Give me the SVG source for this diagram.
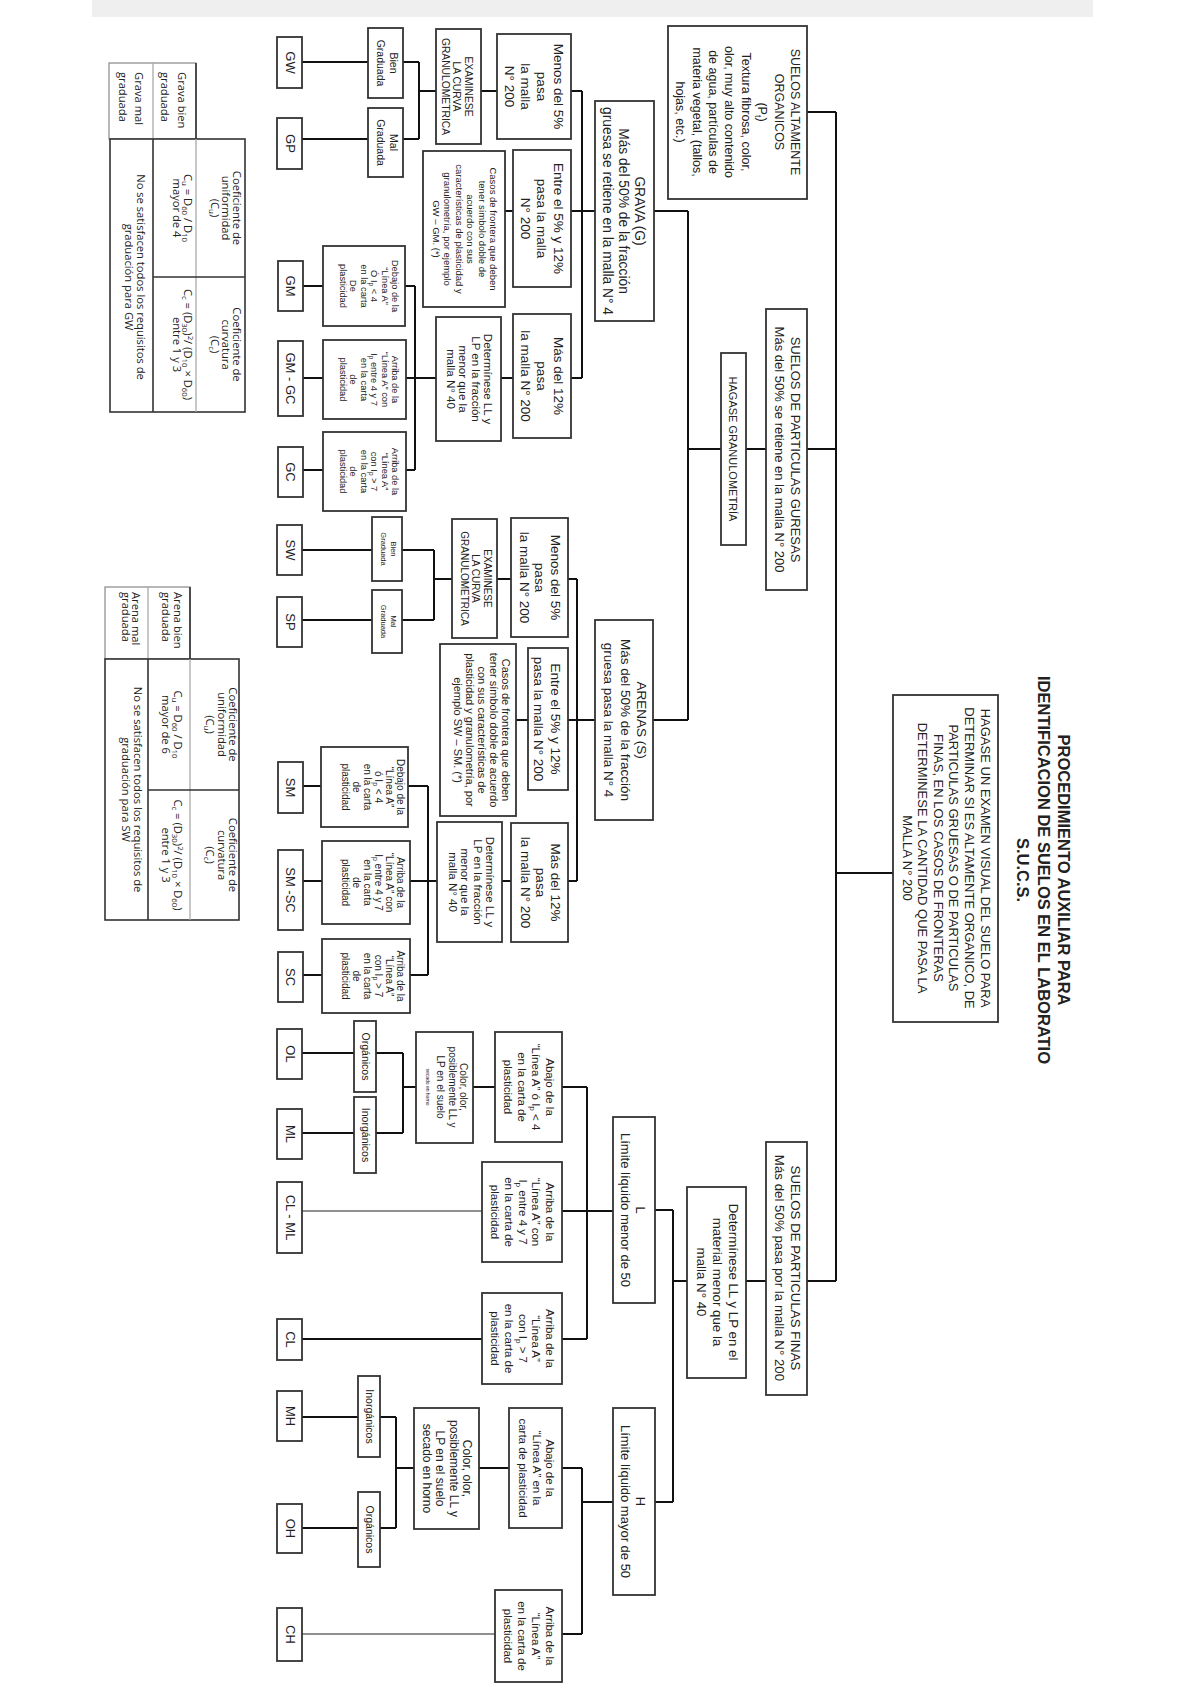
<svg xmlns="http://www.w3.org/2000/svg" width="1200" height="1697" viewBox="0 0 1200 1697">
<style>
.bx{fill:#fff;stroke:#333;stroke-width:1.8}
.c{fill:none;stroke:#111;stroke-width:2}
.cth{fill:none;stroke:#222;stroke-width:1.2}
text{font-family:"Liberation Sans",Arial,sans-serif;fill:#222;text-anchor:middle}
.tt{font-family:"Open Sans",sans-serif;font-size:11.2px}
.ts{text-anchor:start}
.sb{font-size:70%}
.tl{stroke:#333;stroke-width:1.6;fill:#fff}
.tln{stroke:#333;stroke-width:1.6;fill:none}
.tg{stroke:#aaa;stroke-width:1.3;fill:none}
.lb{fill:#fff;stroke:#888;stroke-width:1.2}
</style>
<rect x="92" y="0" width="1001" height="17" fill="#efefef"/>

<g id="connectors">
<path class="c" d="M836,112 V1281 M807,112 H836 M807,449 H836 M766,449 H746 M721,449 H688 M688,211 V720 M654,211 H688 M653,720 H688 M836,873 H893 M807,1281 H836"/>
<path class="c" d="M571,211 H595 M582,91 V378 M571,91 H582 M571,378 H582 M497,91 H481 M436,91 H419 M419,62 V139 M403,62 H419 M403,139 H419 M302,62 H368 M302,139 H368 M513,211 H505 M513,378 H501 M406,378 H436 M415,286 V470 M405,286 H415 M406,470 H415 M303,286 H323 M303,378 H323 M303,470 H323"/>
<path class="c" d="M568,720 H595 M577,579 V881 M568,579 H577 M568,881 H577 M511,579 H497 M452,579 H434 M434,550 V620 M402,550 H434 M402,620 H434 M302,550 H372 M302,620 H372 M528,720 H516 M511,881 H502 M410,881 H437 M428,786 V975 M408,786 H428 M410,975 H428 M303,786 H321 M303,881 H322 M303,975 H322"/>
<path class="c" d="M766,1281 H746 M687,1281 H673 M673,1210 V1502 M655,1210 H673 M655,1502 H673 M613,1211 H562 M587,1087 V1339 M562,1087 H587 M562,1339 H587 M495,1087 H473 M416,1087 H403 M403,1053 V1133 M376,1053 H403 M376,1133 H403 M302,1053 H354 M302,1133 H354 M302,1339 H482 M613,1502 H582 M582,1468 V1634 M562,1468 H582 M562,1634 H582 M509,1468 H479 M414,1468 H396 M396,1417 V1528 M380,1417 H396 M380,1528 H396 M302,1417 H358 M302,1528 H358"/>
<path class="cth" d="M302,1211 H482 M302,1634 H495"/>
</g>

<g id="title">
<text font-size="16.5" font-weight="bold" transform="translate(1058,870) rotate(90)"><tspan x="0" y="0">PROCEDIMIENTO AUXILIAR PARA</tspan><tspan x="0" y="20.5">IDENTIFICACION DE SUELOS EN EL LABORATIO</tspan><tspan x="0" y="41">S.U.C.S.</tspan></text>
</g>

<g id="n-examen">
<rect class="bx" x="893" y="695" width="105" height="327"/>
<text font-size="13" transform="translate(980.5,858) rotate(90)"><tspan x="0" y="0">HAGASE UN EXAMEN VISUAL DEL SUELO PARA</tspan><tspan x="0" y="15.6">DETERMINAR SI ES ALTAMENTE ORGANICO, DE</tspan><tspan x="0" y="31.2">PARTICULAS GRUESAS O DE PARTICULAS</tspan><tspan x="0" y="46.8">FINAS, EN LOS CASOS DE FRONTERAS</tspan><tspan x="0" y="62.4">DETERMINESE LA CANTIDAD QUE PASA LA</tspan><tspan x="0" y="78">MALLA N° 200</tspan></text>
</g>

<g id="n-organicos">
<rect class="bx" x="668" y="26" width="139" height="173"/>
<text font-size="12.5" transform="translate(791,112) rotate(90)"><tspan x="0" y="0">SUELOS ALTAMENTE</tspan><tspan x="0" y="16.4">ORGANICOS</tspan><tspan x="0" y="32.8">(P<tspan class="sb" dy="3">t</tspan><tspan dy="-3">)</tspan></tspan><tspan x="0" y="49.2">Textura fibrosa, color,</tspan><tspan x="0" y="65.6">olor, muy alto contenido</tspan><tspan x="0" y="82">de agua, partículas de</tspan><tspan x="0" y="98.4">materia vegetal, (tallos,</tspan><tspan x="0" y="114.8">hojas, etc.)</tspan></text>
</g>

<g id="n-gruesas">
<rect class="bx" x="766" y="309" width="41" height="281"/>
<text font-size="13" transform="translate(790.5,449.5) rotate(90)"><tspan x="0" y="0">SUELOS DE PARTICULAS GURESAS</tspan><tspan x="0" y="15.5">Más del 50% se retiene en la malla N° 200</tspan></text>
</g>

<g id="n-hagase-gran">
<rect class="bx" x="721" y="353" width="25" height="192"/>
<text font-size="11" transform="translate(729,449) rotate(90)"><tspan x="0" y="0">HAGASE GRANULOMETRÍA</tspan></text>
</g>

<g id="n-finas">
<rect class="bx" x="766" y="1142" width="41" height="253"/>
<text font-size="13.3" transform="translate(790.5,1268) rotate(90)"><tspan x="0" y="0">SUELOS DE PARTICULAS FINAS</tspan><tspan x="0" y="15.5">Más del 50% pasa por la malla N° 200</tspan></text>
</g>

<g id="n-grava">
<rect class="bx" x="595" y="101" width="59" height="220"/>
<text font-size="13.8" transform="translate(635,211) rotate(90)"><tspan x="0" y="0">GRAVA (G)</tspan><tspan x="0" y="16">Más del 50% de la fracción</tspan><tspan x="0" y="32">gruesa se retiene en la malla N° 4</tspan></text>
</g>

<g id="n-arenas">
<rect class="bx" x="595" y="620" width="58" height="200"/>
<text font-size="13.5" transform="translate(637,720) rotate(90)"><tspan x="0" y="0">ARENAS (S)</tspan><tspan x="0" y="16.5">Más del 50% de la fracción</tspan><tspan x="0" y="33">gruesa pasa la malla N° 4</tspan></text>
</g>

<!-- Gravel branch -->
<g id="n-g-menos">
<rect class="bx" x="497" y="34" width="74" height="105"/>
<text font-size="13.5" transform="translate(553.5,86.5) rotate(90)"><tspan x="0" y="0">Menos del 5%</tspan><tspan x="0" y="16.2">pasa</tspan><tspan x="0" y="32.4">la malla</tspan><tspan x="0" y="48.6">N° 200</tspan></text>
</g>
<g id="n-g-entre">
<rect class="bx" x="513" y="150" width="58" height="137"/>
<text font-size="13.5" transform="translate(553.5,218.5) rotate(90)"><tspan x="0" y="0">Entre el 5% y 12%</tspan><tspan x="0" y="16.5">pasa la malla</tspan><tspan x="0" y="33">N° 200</tspan></text>
</g>
<g id="n-g-mas">
<rect class="bx" x="513" y="314" width="58" height="124"/>
<text font-size="13.5" transform="translate(553.5,376) rotate(90)"><tspan x="0" y="0">Más del 12%</tspan><tspan x="0" y="16.5">pasa</tspan><tspan x="0" y="33">la malla N° 200</tspan></text>
</g>
<g id="n-g-examinese">
<rect class="bx" x="436" y="29" width="45" height="115"/>
<text font-size="10.3" transform="translate(464.5,86.5) rotate(90)"><tspan x="0" y="0">EXAMINESE</tspan><tspan x="0" y="11.5">LA CURVA</tspan><tspan x="0" y="23">GRANULOMETRICA</tspan></text>
</g>
<g id="n-g-bien">
<rect class="bx" x="368" y="28" width="35" height="70"/>
<text font-size="10.5" transform="translate(389.5,63) rotate(90)"><tspan x="0" y="0">Bien</tspan><tspan x="0" y="13">Graduada</tspan></text>
</g>
<g id="n-g-mal">
<rect class="bx" x="368" y="108" width="35" height="69"/>
<text font-size="10.5" transform="translate(389.5,142.5) rotate(90)"><tspan x="0" y="0">Mal</tspan><tspan x="0" y="13">Graduada</tspan></text>
</g>
<g id="n-g-casos">
<rect class="bx" x="423" y="151" width="82" height="156"/>
<text font-size="9.5" transform="translate(490,229) rotate(90)"><tspan x="0" y="0">Casos de frontera que deben</tspan><tspan x="0" y="11.4">tener símbolo doble de</tspan><tspan x="0" y="22.8">acuerdo con sus</tspan><tspan x="0" y="34.2">características de plasticidad y</tspan><tspan x="0" y="45.6">granulometría, por ejemplo</tspan><tspan x="0" y="57">GW – GM. (*)</tspan></text>
</g>
<g id="n-g-determinese">
<rect class="bx" x="436" y="317" width="65" height="124"/>
<text font-size="11.5" transform="translate(484,379) rotate(90)"><tspan x="0" y="0">Determínese LL y</tspan><tspan x="0" y="12.3">LP en la fracción</tspan><tspan x="0" y="24.6">menor que la</tspan><tspan x="0" y="36.9">malla N° 40</tspan></text>
</g>
<g id="n-g-debajo">
<rect class="bx" x="323" y="246" width="82" height="80"/>
<text font-size="9.3" transform="translate(392,286) rotate(90)"><tspan x="0" y="0">Debajo de la</tspan><tspan x="0" y="10.4">“Línea A”</tspan><tspan x="0" y="20.8">Ó I<tspan class="sb" dy="2">p</tspan><tspan dy="-2"> &lt; 4</tspan></tspan><tspan x="0" y="31.2">en la carta</tspan><tspan x="0" y="41.6">De</tspan><tspan x="0" y="52">plasticidad</tspan></text>
</g>
<g id="n-g-arriba47">
<rect class="bx" x="323" y="340" width="83" height="79"/>
<text font-size="9.3" transform="translate(392,379.5) rotate(90)"><tspan x="0" y="0">Arriba de la</tspan><tspan x="0" y="10.4">“Línea A” con</tspan><tspan x="0" y="20.8">I<tspan class="sb" dy="2">p</tspan><tspan dy="-2"> entre 4 y 7</tspan></tspan><tspan x="0" y="31.2">en la carta</tspan><tspan x="0" y="41.6">de</tspan><tspan x="0" y="52">plasticidad</tspan></text>
</g>
<g id="n-g-arriba7">
<rect class="bx" x="323" y="432" width="83" height="79"/>
<text font-size="9.3" transform="translate(392,471.5) rotate(90)"><tspan x="0" y="0">Arriba de la</tspan><tspan x="0" y="10.4">“Línea A”</tspan><tspan x="0" y="20.8">con I<tspan class="sb" dy="2">p</tspan><tspan dy="-2"> &gt; 7</tspan></tspan><tspan x="0" y="31.2">en la carta</tspan><tspan x="0" y="41.6">de</tspan><tspan x="0" y="52">plasticidad</tspan></text>
</g>
<g id="n-gw"><rect class="bx" x="277" y="37" width="25" height="51"/><text font-size="13" transform="translate(285.5,62.5) rotate(90)">GW</text></g>
<g id="n-gp"><rect class="bx" x="277" y="118" width="25" height="51"/><text font-size="13" transform="translate(285.5,143.5) rotate(90)">GP</text></g>
<g id="n-gm"><rect class="bx" x="278" y="261" width="25" height="50"/><text font-size="13" transform="translate(286,286) rotate(90)">GM</text></g>
<g id="n-gmgc"><rect class="bx" x="278" y="341" width="25" height="75"/><text font-size="13" transform="translate(286,378.5) rotate(90)">GM - GC</text></g>
<g id="n-gc"><rect class="bx" x="278" y="447" width="25" height="50"/><text font-size="13" transform="translate(286,472) rotate(90)">GC</text></g>

<!-- Sand branch -->
<g id="n-s-menos">
<rect class="bx" x="511" y="518" width="57" height="119"/>
<text font-size="13.5" transform="translate(550.5,577.5) rotate(90)"><tspan x="0" y="0">Menos del 5%</tspan><tspan x="0" y="15.5">pasa</tspan><tspan x="0" y="31">la malla N° 200</tspan></text>
</g>
<g id="n-s-examinese">
<rect class="bx" x="452" y="519" width="45" height="119"/>
<text font-size="10" transform="translate(483.5,578.5) rotate(90)"><tspan x="0" y="0">EXAMINESE</tspan><tspan x="0" y="11.5">LA CURVA</tspan><tspan x="0" y="23">GRANULOMETRICA</tspan></text>
</g>
<g id="n-s-bien">
<rect class="bx" x="372" y="517" width="30" height="64"/>
<text font-size="7.5" transform="translate(390.5,549) rotate(90)"><tspan x="0" y="0">Bien</tspan><tspan x="0" y="10">Graduada</tspan></text>
</g>
<g id="n-s-mal">
<rect class="bx" x="372" y="590" width="30" height="63"/>
<text font-size="7.5" transform="translate(390.5,621.5) rotate(90)"><tspan x="0" y="0">Mal</tspan><tspan x="0" y="10">Graduada</tspan></text>
</g>
<g id="n-s-entre">
<rect class="bx" x="528" y="648" width="40" height="142"/>
<text font-size="13.5" transform="translate(550.5,719) rotate(90)"><tspan x="0" y="0">Entre el 5% y 12%</tspan><tspan x="0" y="16.7">pasa la malla N° 200</tspan></text>
</g>
<g id="n-s-casos">
<rect class="bx" x="440" y="644" width="76" height="172"/>
<text font-size="11" transform="translate(501.5,730) rotate(90)"><tspan x="0" y="0">Casos de frontera que deben</tspan><tspan x="0" y="11.8">tener símbolo doble de acuerdo</tspan><tspan x="0" y="23.6">con sus características de</tspan><tspan x="0" y="35.4">plasticidad y granulometría, por</tspan><tspan x="0" y="47.2">ejemplo SW – SM. (*)</tspan></text>
</g>
<g id="n-s-mas">
<rect class="bx" x="511" y="823" width="57" height="119"/>
<text font-size="13.5" transform="translate(550.5,882.5) rotate(90)"><tspan x="0" y="0">Más del 12%</tspan><tspan x="0" y="15">pasa</tspan><tspan x="0" y="30">la malla N° 200</tspan></text>
</g>
<g id="n-s-determinese">
<rect class="bx" x="437" y="822" width="65" height="120"/>
<text font-size="11.5" transform="translate(486,882) rotate(90)"><tspan x="0" y="0">Determínese LL y</tspan><tspan x="0" y="12.3">LP en la fracción</tspan><tspan x="0" y="24.6">menor que la</tspan><tspan x="0" y="36.9">malla N° 40</tspan></text>
</g>
<g id="n-s-debajo">
<rect class="bx" x="321" y="747" width="87" height="80"/>
<text font-size="10" transform="translate(397,787) rotate(90)"><tspan x="0" y="0">Debajo de la</tspan><tspan x="0" y="11">“Línea A”</tspan><tspan x="0" y="22">ó I<tspan class="sb" dy="2">p</tspan><tspan dy="-2"> &lt; 4</tspan></tspan><tspan x="0" y="33">en la carta</tspan><tspan x="0" y="44">de</tspan><tspan x="0" y="55">plasticidad</tspan></text>
</g>
<g id="n-s-arriba47">
<rect class="bx" x="322" y="841" width="88" height="83"/>
<text font-size="10" transform="translate(397,882.5) rotate(90)"><tspan x="0" y="0">Arriba de la</tspan><tspan x="0" y="11">“Línea A” con</tspan><tspan x="0" y="22">I<tspan class="sb" dy="2">p</tspan><tspan dy="-2"> entre 4 y 7</tspan></tspan><tspan x="0" y="33">en la carta</tspan><tspan x="0" y="44">de</tspan><tspan x="0" y="55">plasticidad</tspan></text>
</g>
<g id="n-s-arriba7">
<rect class="bx" x="322" y="939" width="88" height="74"/>
<text font-size="10" transform="translate(397,976) rotate(90)"><tspan x="0" y="0">Arriba de la</tspan><tspan x="0" y="11">“Línea A”</tspan><tspan x="0" y="22">con I<tspan class="sb" dy="2">p</tspan><tspan dy="-2"> &gt; 7</tspan></tspan><tspan x="0" y="33">en la carta</tspan><tspan x="0" y="44">de</tspan><tspan x="0" y="55">plasticidad</tspan></text>
</g>
<g id="n-sw"><rect class="bx" x="277" y="525" width="25" height="50"/><text font-size="13" transform="translate(285.5,550) rotate(90)">SW</text></g>
<g id="n-sp"><rect class="bx" x="277" y="597" width="25" height="50"/><text font-size="13" transform="translate(285.5,622) rotate(90)">SP</text></g>
<g id="n-sm"><rect class="bx" x="278" y="762" width="25" height="51"/><text font-size="13" transform="translate(286,787.5) rotate(90)">SM</text></g>
<g id="n-smsc"><rect class="bx" x="278" y="850" width="25" height="80"/><text font-size="13" transform="translate(286,890) rotate(90)">SM -SC</text></g>
<g id="n-sc"><rect class="bx" x="278" y="952" width="25" height="50"/><text font-size="13" transform="translate(286,977) rotate(90)">SC</text></g>

<!-- Fines branch -->
<g id="n-f-determinese">
<rect class="bx" x="687" y="1187" width="59" height="191"/>
<text font-size="13.3" transform="translate(728.5,1282) rotate(90)"><tspan x="0" y="0">Determínese LL y LP en el</tspan><tspan x="0" y="16">material menor que la</tspan><tspan x="0" y="32">malla N° 40</tspan></text>
</g>
<g id="n-l">
<rect class="bx" x="613" y="1117" width="42" height="186"/>
<text font-size="13" transform="translate(635.5,1210) rotate(90)"><tspan x="0" y="0">L</tspan><tspan x="0" y="15">Límite líquido menor de 50</tspan></text>
</g>
<g id="n-h">
<rect class="bx" x="613" y="1408" width="42" height="187"/>
<text font-size="13" transform="translate(635.5,1501.5) rotate(90)"><tspan x="0" y="0">H</tspan><tspan x="0" y="15">Límite líquido mayor de 50</tspan></text>
</g>
<g id="n-l-abajo">
<rect class="bx" x="495" y="1032" width="67" height="110"/>
<text font-size="11.5" transform="translate(546,1087) rotate(90)"><tspan x="0" y="0">Abajo de la</tspan><tspan x="0" y="14">“Línea A” ó I<tspan class="sb" dy="2.5">p</tspan><tspan dy="-2.5"> &lt; 4</tspan></tspan><tspan x="0" y="28">en la carta de</tspan><tspan x="0" y="42">plasticidad</tspan></text>
</g>
<g id="n-l-color">
<rect class="bx" x="416" y="1032" width="57" height="111"/>
<text font-size="10" transform="translate(460,1087) rotate(90)"><tspan x="0" y="0">Color, olor,</tspan><tspan x="0" y="11.5">posiblemente LL y</tspan><tspan x="0" y="23">LP en el suelo</tspan><tspan x="0" y="34.5" font-size="5">secado en horno</tspan></text>
</g>
<g id="n-l-org">
<rect class="bx" x="354" y="1021" width="22" height="71"/>
<text font-size="10.5" transform="translate(361.5,1056.5) rotate(90)">Orgánicos</text>
</g>
<g id="n-l-inorg">
<rect class="bx" x="354" y="1097" width="22" height="76"/>
<text font-size="10.5" transform="translate(361.5,1135) rotate(90)">Inorgánicos</text>
</g>
<g id="n-l-arriba47">
<rect class="bx" x="482" y="1162" width="80" height="100"/>
<text font-size="11.5" transform="translate(546,1212) rotate(90)"><tspan x="0" y="0">Arriba de la</tspan><tspan x="0" y="13.7">“Línea A” con</tspan><tspan x="0" y="27.4">I<tspan class="sb" dy="2.5">p</tspan><tspan dy="-2.5"> entre 4 y 7</tspan></tspan><tspan x="0" y="41.1">en la carta de</tspan><tspan x="0" y="54.8">plasticidad</tspan></text>
</g>
<g id="n-l-arriba7">
<rect class="bx" x="482" y="1293" width="80" height="91"/>
<text font-size="11.5" transform="translate(546,1338.5) rotate(90)"><tspan x="0" y="0">Arriba de la</tspan><tspan x="0" y="13.7">“Línea A”</tspan><tspan x="0" y="27.4">con I<tspan class="sb" dy="2.5">p</tspan><tspan dy="-2.5"> &gt; 7</tspan></tspan><tspan x="0" y="41.1">en la carta de</tspan><tspan x="0" y="54.8">plasticidad</tspan></text>
</g>
<g id="n-h-abajo">
<rect class="bx" x="509" y="1408" width="53" height="120"/>
<text font-size="11.5" transform="translate(546,1468) rotate(90)"><tspan x="0" y="0">Abajo de la</tspan><tspan x="0" y="13.5">“Línea A” en la</tspan><tspan x="0" y="27">carta de plasticidad</tspan></text>
</g>
<g id="n-h-color">
<rect class="bx" x="414" y="1408" width="65" height="121"/>
<text font-size="12" transform="translate(463,1468.5) rotate(90)"><tspan x="0" y="0">Color, olor,</tspan><tspan x="0" y="13.3">posiblemente LL y</tspan><tspan x="0" y="26.6">LP en el suelo</tspan><tspan x="0" y="39.9">secado en horno</tspan></text>
</g>
<g id="n-h-inorg">
<rect class="bx" x="358" y="1376" width="22" height="81"/>
<text font-size="10.5" transform="translate(365.5,1416.5) rotate(90)">Inorgánicos</text>
</g>
<g id="n-h-org">
<rect class="bx" x="358" y="1492" width="22" height="75"/>
<text font-size="10.5" transform="translate(365.5,1529.5) rotate(90)">Orgánicos</text>
</g>
<g id="n-h-arriba">
<rect class="bx" x="495" y="1590" width="67" height="92"/>
<text font-size="11.5" transform="translate(546,1636) rotate(90)"><tspan x="0" y="0">Arriba de la</tspan><tspan x="0" y="14">“Línea A”</tspan><tspan x="0" y="28">en la carta de</tspan><tspan x="0" y="42">plasticidad</tspan></text>
</g>
<g id="n-ol"><rect class="bx" x="277" y="1029" width="25" height="50"/><text font-size="13" transform="translate(285.5,1054) rotate(90)">OL</text></g>
<g id="n-ml"><rect class="bx" x="277" y="1109" width="25" height="50"/><text font-size="13" transform="translate(285.5,1134) rotate(90)">ML</text></g>
<g id="n-clml"><rect class="bx" x="277" y="1182" width="25" height="71"/><text font-size="13" transform="translate(285.5,1217.5) rotate(90)">CL - ML</text></g>
<g id="n-cl"><rect class="bx" x="277" y="1319" width="25" height="41"/><text font-size="13" transform="translate(285.5,1339.5) rotate(90)">CL</text></g>
<g id="n-mh"><rect class="bx" x="277" y="1391" width="25" height="50"/><text font-size="13" transform="translate(285.5,1416) rotate(90)">MH</text></g>
<g id="n-oh"><rect class="bx" x="277" y="1504" width="25" height="49"/><text font-size="13" transform="translate(285.5,1528.5) rotate(90)">OH</text></g>
<g id="n-ch"><rect class="bx" x="277" y="1608" width="25" height="53"/><text font-size="13" transform="translate(285.5,1634.5) rotate(90)">CH</text></g>

<!-- Gravel table -->
<g id="table-grava">
<rect class="lb" x="109" y="63" width="87" height="76"/>
<path class="tg" d="M153,63 V139"/>
<path class="tln" d="M196,63 V139"/>
<rect class="tl" x="110" y="139" width="135" height="273"/>
<path class="tg" d="M196,139 V412"/>
<path class="tln" d="M153,139 V412 M153,277 H245"/>
<text class="tt ts" transform="translate(178,72) rotate(90)"><tspan x="0" y="0">Grava bien</tspan><tspan x="0" y="17">graduada</tspan></text>
<text class="tt ts" transform="translate(135,72) rotate(90)"><tspan x="0" y="0">Grava mal</tspan><tspan x="0" y="16.5">graduada</tspan></text>
<text class="tt" transform="translate(233,208) rotate(90)"><tspan x="0" y="0">Coeficiente de</tspan><tspan x="0" y="11">uniformidad</tspan><tspan x="0" y="22">(C<tspan class="sb" dy="2.5">u</tspan><tspan dy="-2.5">)</tspan></tspan></text>
<text class="tt" transform="translate(233,344.5) rotate(90)"><tspan x="0" y="0">Coeficiente de</tspan><tspan x="0" y="11">curvatura</tspan><tspan x="0" y="22">(C<tspan class="sb" dy="2.5">c</tspan><tspan dy="-2.5">)</tspan></tspan></text>
<text class="tt" transform="translate(184,208) rotate(90)"><tspan x="0" y="0">C<tspan class="sb" dy="2.5">u</tspan><tspan dy="-2.5"> = D</tspan><tspan class="sb" dy="2.5">60</tspan><tspan dy="-2.5"> / D</tspan><tspan class="sb" dy="2.5">10</tspan></tspan><tspan x="0" y="11">mayor de 4</tspan></text>
<text class="tt" transform="translate(184,344.5) rotate(90)"><tspan x="0" y="0">C<tspan class="sb" dy="2.5">c</tspan><tspan dy="-2.5"> = (D</tspan><tspan class="sb" dy="2.5">30</tspan><tspan dy="-2.5">)</tspan><tspan class="sb" dy="-4">2</tspan><tspan dy="4">/ (D</tspan><tspan class="sb" dy="2.5">10</tspan><tspan dy="-2.5"> × D</tspan><tspan class="sb" dy="2.5">60</tspan><tspan dy="-2.5">)</tspan></tspan><tspan x="0" y="11">entre 1 y 3</tspan></text>
<text class="tt" transform="translate(137,277) rotate(90)"><tspan x="0" y="0">No se satisfacen todos los requisitos de</tspan><tspan x="0" y="12">graduación para GW</tspan></text>
</g>

<!-- Sand table -->
<g id="table-arena">
<rect class="lb" x="105" y="587" width="85" height="72"/>
<path class="tg" d="M148,587 V659"/>
<path class="tln" d="M190,587 V659"/>
<rect class="tl" x="105" y="659" width="134" height="261"/>
<path class="tg" d="M190,659 V920"/>
<path class="tln" d="M148,659 V920 M148,790 H239"/>
<text class="tt ts" transform="translate(174,592) rotate(90)"><tspan x="0" y="0">Arena bien</tspan><tspan x="0" y="12">graduada</tspan></text>
<text class="tt ts" transform="translate(132,592) rotate(90)"><tspan x="0" y="0">Arena mal</tspan><tspan x="0" y="10.5">graduada</tspan></text>
<text class="tt" transform="translate(229,724.5) rotate(90)"><tspan x="0" y="0">Coeficiente de</tspan><tspan x="0" y="11.3">uniformidad</tspan><tspan x="0" y="22.6">(C<tspan class="sb" dy="2.5">u</tspan><tspan dy="-2.5">)</tspan></tspan></text>
<text class="tt" transform="translate(229,855) rotate(90)"><tspan x="0" y="0">Coeficiente de</tspan><tspan x="0" y="11.3">curvatura</tspan><tspan x="0" y="22.6">(C<tspan class="sb" dy="2.5">c</tspan><tspan dy="-2.5">)</tspan></tspan></text>
<text class="tt" transform="translate(174,724.5) rotate(90)"><tspan x="0" y="0">C<tspan class="sb" dy="2.5">u</tspan><tspan dy="-2.5"> = D</tspan><tspan class="sb" dy="2.5">60</tspan><tspan dy="-2.5"> / D</tspan><tspan class="sb" dy="2.5">10</tspan></tspan><tspan x="0" y="12">mayor de 6</tspan></text>
<text class="tt" transform="translate(174,855) rotate(90)"><tspan x="0" y="0">C<tspan class="sb" dy="2.5">c</tspan><tspan dy="-2.5"> = (D</tspan><tspan class="sb" dy="2.5">30</tspan><tspan dy="-2.5">)</tspan><tspan class="sb" dy="-4">2</tspan><tspan dy="4">/ (D</tspan><tspan class="sb" dy="2.5">10</tspan><tspan dy="-2.5"> × D</tspan><tspan class="sb" dy="2.5">60</tspan><tspan dy="-2.5">)</tspan></tspan><tspan x="0" y="12">entre 1 y 3</tspan></text>
<text class="tt" transform="translate(134,789.5) rotate(90)"><tspan x="0" y="0">No se satisfacen todos los requisitos de</tspan><tspan x="0" y="12">graduación para SW</tspan></text>
</g>
</svg>
